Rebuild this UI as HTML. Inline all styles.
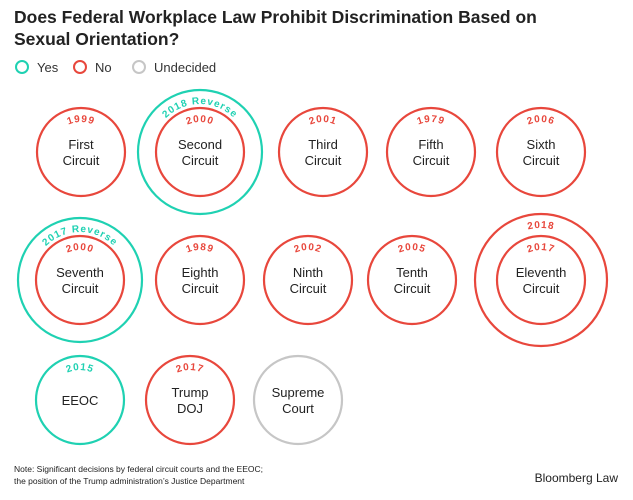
<!DOCTYPE html>
<html><head><meta charset="utf-8"><style>
body{margin:0;background:#fff;width:633px;height:500px;overflow:hidden;font-family:"Liberation Sans",sans-serif}
svg{display:block}
</style></head><body>
<svg id="chart" width="633" height="500">
<text x="14" y="23" font-size="17.5" font-weight="bold" fill="#222">Does Federal Workplace Law Prohibit Discrimination Based on</text>
<text x="14" y="45" font-size="17.5" font-weight="bold" fill="#222">Sexual Orientation?</text>
<g>
<circle cx="22" cy="67" r="6" fill="none" stroke="#1fd1b2" stroke-width="2"/>
<text x="37" y="72" font-size="13" fill="#333">Yes</text>
<circle cx="80" cy="67" r="6" fill="none" stroke="#e8473c" stroke-width="2"/>
<text x="95" y="72" font-size="13" fill="#333">No</text>
<circle cx="139" cy="67" r="6" fill="none" stroke="#c6c6c6" stroke-width="2"/>
<text x="154" y="72" font-size="13" fill="#333">Undecided</text>
</g>
<g id="courts"></g>
<text x="14" y="472" font-size="8.5" fill="#222">Note: Significant decisions by federal circuit courts and the EEOC;</text>
<text x="14" y="484" font-size="8.5" fill="#222">the position of the Trump administration’s Justice Department</text>
<text x="618" y="482" font-size="12" fill="#222" text-anchor="end">Bloomberg Law</text>
</svg>
<script>
const courtNames = [["First","Circuit"],["Second","Circuit"],["Third","Circuit"],["Fifth","Circuit"],["Sixth","Circuit"],["Seventh","Circuit"],["Eighth","Circuit"],["Ninth","Circuit"],["Tenth","Circuit"],["Eleventh","Circuit"],["EEOC"],["Trump","DOJ"],["Supreme","Court"]];
const innerLabels = ["1999","2000","2001","1979","2006","2000","1989","2002","2005","2017","2015","2017",""];
const innerStatus = ["no","no","no","no","no","no","no","no","no","no","yes","no","undecided"];
const outerLabels = ["","2018 Reverse","","","","2017 Reverse","","","","2018","","",""];
const outerStatus = ["","yes","","","","yes","","","","no","","",""];
const centersX = [81,200,323,431,541,80,200,308,412,541,80,190,298];
const centersY = [152,152,152,152,152,280,280,280,280,280,400,400,400];
const colors = {yes:"#1fd1b2", no:"#e8473c", undecided:"#c6c6c6"};
const NS="http://www.w3.org/2000/svg";
const g=document.getElementById('courts');
function mk(t,a){const e=document.createElementNS(NS,t);for(const k in a)e.setAttribute(k,a[k]);return e;}
function arcText(parent,cx,cy,r,txt,col,id,fs){
  const p=mk('path',{id:id,d:`M ${cx-r} ${cy} A ${r} ${r} 0 0 1 ${cx+r} ${cy}`,fill:'none'});
  parent.appendChild(p);
  const t=mk('text',{'font-size':fs,'font-weight':'bold',fill:col,'letter-spacing':'1','text-anchor':'middle'});
  
  
  const tp=mk('textPath',{href:'#'+id,startOffset:'50%'});
  tp.textContent=txt;t.appendChild(tp);parent.appendChild(t);
}
courtNames.forEach((nm,i)=>{
  const cx=centersX[i],cy=centersY[i];
  const grp=mk('g',{});
  
  
  if(outerStatus[i]){
    const R = outerStatus[i]==='no'?66:62;
    const oc=mk('circle',{cx:cx,cy:cy,r:R,fill:'none',stroke:colors[outerStatus[i]],'stroke-width':2.2});
    
    
    grp.appendChild(oc);
    arcText(grp,cx,cy,R-14,outerLabels[i],colors[outerStatus[i]],'o'+i,10);
  }
  const ic=mk('circle',{cx:cx,cy:cy,r:44,fill:'none',stroke:colors[innerStatus[i]],'stroke-width':2.2});
  
  
  grp.appendChild(ic);
  if(innerLabels[i]) arcText(grp,cx,cy,30,innerLabels[i],colors[innerStatus[i]],'i'+i,10);
  const y0 = nm.length===1? cy+5 : cy-3;
  nm.forEach((ln,k)=>{
    const t=mk('text',{x:cx,y:y0+k*16,'font-size':13,fill:'#222','text-anchor':'middle'});
    
    
    t.textContent=ln;grp.appendChild(t);
  });
  g.appendChild(grp);
});
</script>
</body></html>
